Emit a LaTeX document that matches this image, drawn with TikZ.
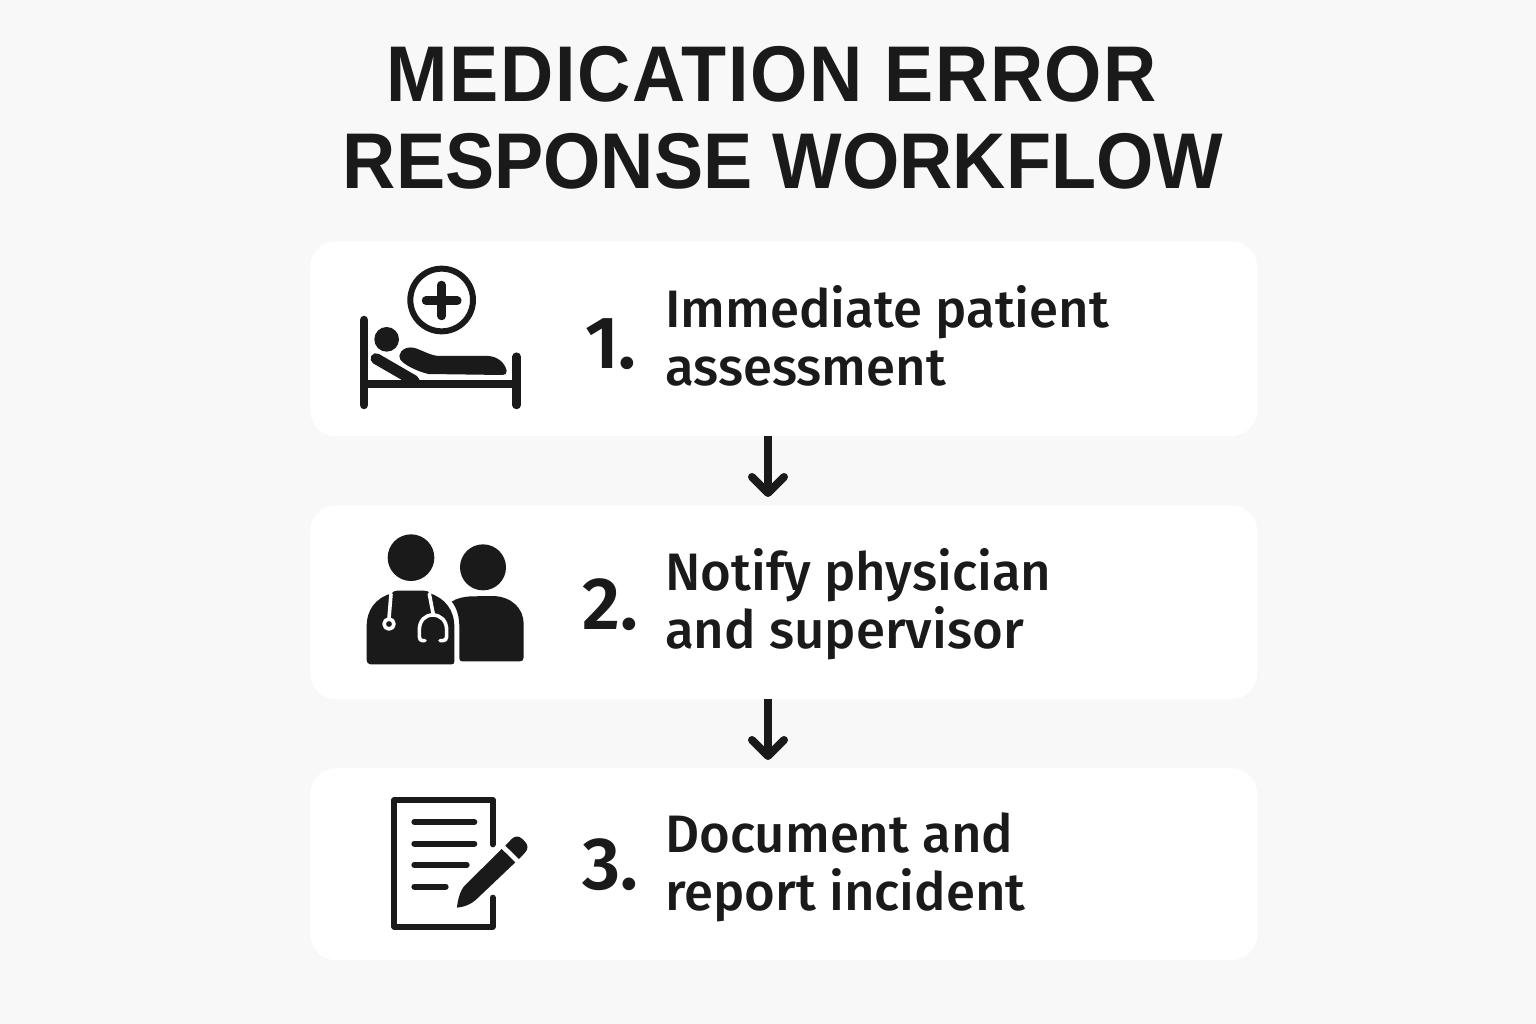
\documentclass[tikz,border=0pt]{standalone}
\usepackage{fontspec}
\usetikzlibrary{arrows.meta}
\setmainfont{Liberation Sans}
\newfontfamily\titlef{Liberation Sans Bold}[FakeStretch=0.933]
\newfontfamily\bodyf{Fira Sans Medium}
\newfontfamily\numf{Fira Sans SemiBold}
\definecolor{ink}{HTML}{1A1A1A}
\definecolor{bgc}{HTML}{F8F8F8}
\tikzset{
  x=1pt,y=-1pt,
  card/.style={fill=white,draw=none,rounded corners=26pt,minimum width=947pt,anchor=north west,inner sep=0pt},
  titletext/.style={text=ink,align=center,anchor=center,inner sep=0pt,font=\titlef\fontsize{79}{87}\selectfont},
  steptext/.style={text=ink,align=left,anchor=west,inner sep=0pt,font=\bodyf\fontsize{52.7}{58}\selectfont},
  numtext/.style={text=ink,anchor=base west,inner sep=0pt,font=\numf\fontsize{74}{74}\selectfont},
  flow/.style={draw=ink,line width=8pt,-{Straight Barb[length=16pt,width=32pt,line cap=round,round]},shorten >=8pt},
  ic/.style={draw=ink,line cap=round,line join=round},
  icf/.style={fill=ink,draw=none},
  wh/.style={draw=white,line width=3.6pt,line cap=round,line join=round},
}
\begin{document}
\begin{tikzpicture}
\useasboundingbox (0,0) rectangle (1536,1024);
\fill[bgc] (0,0) rectangle (1536,1024);
\node[titletext] (title) at (783,118) {{\addfontfeature{LetterSpace=2}MEDICATION ERROR}\hspace*{22pt}\mbox{}\\RESPONSE WORKFLOW};
\node[card,minimum height=195pt] (c1) at (310,241) {};
\node[card,minimum height=194pt] (c2) at (310,505) {};
\node[card,minimum height=192pt] (c3) at (310,768) {};
\coordinate (ax) at (768,0);
\draw[flow] (c1.south -| ax) -- (c2.north -| ax);
\draw[flow] (c2.south -| ax) -- (c3.north -| ax);
\node[numtext] (n1) at (585,368) {1.};
\node[numtext] (n2) at (582,629) {2.};
\node[numtext] (n3) at (582,889) {3.};
\node[steptext] (t1) at (665,336) {Immediate patient\\assessment};
\node[steptext] (t2) at (665,604) {Notify physician\\and supervisor};
\node[steptext] (t3) at (665,867) {Document and\\report incident};
% bed icon
\begin{scope}[shift={(340,250)},scale=1/3]
\draw[ic,line width=8.5pt] (72,210) -- (72,465);
\draw[ic,line width=8.5pt] (530,320) -- (530,465);
\draw[ic,line width=8.5pt,line cap=butt] (72,402) -- (530,402);
\draw[ic,line width=6pt] (305,150) circle (94);
\draw[ic,line width=8.5pt] (305,105) -- (305,198) (258,152) -- (352,152);
\fill[ink] (140,268) circle (37);
\draw[ic,line width=11pt] (108,326) -- (222,392);
\fill[ink] (178,318) .. controls (180,298) and (205,286) .. (230,296)
 .. controls (255,305) and (275,318) .. (300,318)
 -- (445,318) .. controls (475,320) and (495,340) .. (500,362)
 .. controls (501,370) and (496,375) .. (488,375)
 -- (265,372) .. controls (235,365) and (205,350) .. (190,338)
 .. controls (182,332) and (178,326) .. (178,318) -- cycle;
\end{scope}
% people icon
\begin{scope}[shift={(350,520)},scale=1/3]
\fill[ink] (183,113) circle (70);
\fill[ink] (399,142) circle (69);
\fill[ink] (62,433) .. controls (54,433) and (50,428) .. (50,420)
 -- (50,320) .. controls (50,270) and (75,235) .. (125,220)
 .. controls (130,214) and (135,212) .. (142,212) -- (222,212)
 .. controls (230,212) and (236,214) .. (240,220)
 .. controls (285,235) and (313,270) .. (313,320)
 -- (313,425) .. controls (313,430) and (310,433) .. (305,433) -- cycle;
\fill[ink] (305,245) .. controls (320,235) and (340,230) .. (365,229)
 -- (430,228) .. controls (485,230) and (520,265) .. (521,310)
 -- (521,412) .. controls (521,420) and (517,424) .. (510,424)
 -- (336,424) .. controls (330,424) and (328,420) .. (328,414)
 -- (328,320) .. controls (328,290) and (320,262) .. (305,245) -- cycle;
\draw[wh] (123,222) -- (117,295);
\draw[wh] (117,312) circle (15);
\draw[wh] (238,222) -- (250,284);
\draw[wh] (225,362) -- (218,362) .. controls (212,362) and (208,358) .. (208,350)
 -- (208,330) .. controls (208,302) and (225,285) .. (248,285)
 .. controls (272,285) and (290,302) .. (290,330)
 -- (290,350) .. controls (290,358) and (285,362) .. (278,362) -- (270,362);
\end{scope}
% document icon
\begin{scope}[shift={(375,785)},scale=1/3]
\draw[ic,line width=6pt] (353,178) -- (353,45) -- (58,45) -- (58,425) -- (353,425) -- (353,338);
\draw[ic,line width=6pt] (118,111) -- (298,111) (118,176) -- (298,176) (118,240) -- (275,240) (118,305) -- (212,305);
\fill[ink] (380,192) -- (421,232) -- (302,345) .. controls (290,357) and (265,367) .. (246,368)
 .. controls (248,345) and (255,318) .. (268,303) -- cycle;
\fill[ink] (391,182) -- (432,222) -- (450,203) .. controls (460,192) and (460,180) .. (450,170)
 -- (442,162) .. controls (432,152) and (420,152) .. (410,162) -- cycle;
\end{scope}
\end{tikzpicture}
\end{document}
